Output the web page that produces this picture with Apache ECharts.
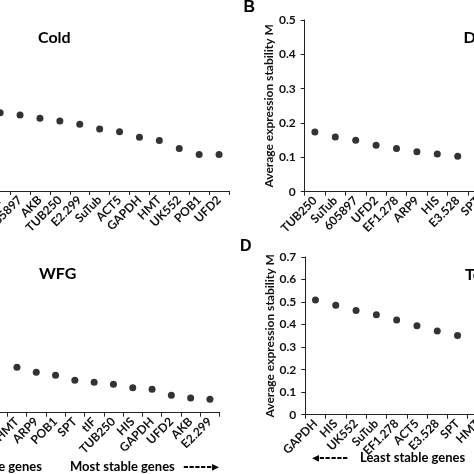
<!DOCTYPE html>
<html><head><meta charset="utf-8">
<script src="https://cdn.jsdelivr.net/npm/echarts@6/dist/echarts.min.js"></script>
<style>html,body{margin:0;padding:0;background:#fff}#c{width:474px;height:474px}</style>
</head><body><div id="c"></div>
<script>
// Panel A (Cold) - right part visible
const catsA = ['SPT','605897','AKB','TUB250','E2.299','SuTub','ACT5','GAPDH','HMT','UK552','POB1','UFD2'];
const valsA = [0.229,0.222,0.213,0.205,0.195,0.181,0.173,0.157,0.148,0.124,0.107,0.107];
// Panel B (Drought) - left part visible
const catsB = ['TUB250','SuTub','605897','UFD2','EF1.278','ARP9','HIS','E3.528','SPT'];
const valsB = [0.174,0.159,0.150,0.135,0.126,0.116,0.110,0.103,null];
// Panel C (WFG) - right part visible
const catsC = ['ACT5','HMT','ARP9','POB1','SPT','tIF','TUB250','HIS','GAPDH','UFD2','AKB','E2.299'];
const valsC = [null,0.204,0.182,0.168,0.146,0.137,0.128,0.112,0.105,0.078,0.066,0.060];
// Panel D (Temperature) - left part visible
const catsD = ['GAPDH','HIS','UK552','SuTub','EF1.278','ACT5','E3.528','SPT','HMT'];
const valsD = [0.509,0.486,0.463,0.444,0.420,0.395,0.372,0.351,null];
// y-axis ranges
const yRangeTop = [0, 0.5, 0.1];
const yRangeBottom = [0, 0.7, 0.1];
const yName = 'Average expression stability M';

const FONT = 'Lato';
const axisCol = '#222';
const grids = [
  {left: -9.8, top: 20, width: 238.8, height: 171},
  {left: 304.7, top: 20, width: 183.6, height: 171.7},
  {left: -12, top: 257, width: 231.6, height: 155.7},
  {left: 305.3, top: 257, width: 182.7, height: 157.7}
].map(g => Object.assign({containLabel: false, outerBoundsMode: 'none'}, g));

const cats = [catsA, catsB, catsC, catsD];
const vals = [valsA, valsB, valsC, valsD];
const ranges = [yRangeTop, yRangeTop, yRangeBottom, yRangeBottom];

const xAxis = cats.map((c, i) => ({
  type: 'category', gridIndex: i, data: c, boundaryGap: true,
  axisLine: {lineStyle: {color: axisCol, width: 1}},
  axisTick: {show: true, length: 4, inside: false, lineStyle: {color: axisCol}},
  axisLabel: {rotate: 45, interval: 0, margin: 7, fontFamily: FONT, fontWeight: 'bold', fontSize: 12, color: '#111'},
  splitLine: {show: false}
}));
const yAxis = ranges.map((r, i) => ({
  type: 'value', gridIndex: i, min: r[0], max: r[1], interval: r[2],
  name: yName, nameLocation: 'middle', nameRotate: 90, nameGap: 29,
  nameTextStyle: {fontFamily: FONT, fontWeight: 'bold', fontSize: 12, color: '#111'},
  axisLine: {show: true, lineStyle: {color: axisCol, width: 1}},
  axisTick: {show: true, length: 4, lineStyle: {color: axisCol}},
  axisLabel: {margin: 9, fontFamily: FONT, fontWeight: 'bold', fontSize: 12, color: '#111',
    formatter: v => (Math.round(v * 10) / 10).toString()},
  splitLine: {show: false}
}));
const series = vals.map((v, i) => ({
  type: 'scatter', xAxisIndex: i, yAxisIndex: i, data: v,
  symbolSize: 7, itemStyle: {color: '#000'}, silent: true
}));

function txt(x, y, text, font, align) {
  return {type: 'text', x: x, y: y, silent: true,
    style: {text: text, font: font, fill: '#000', align: align || 'left', verticalAlign: 'middle'}};
}
const titleFont = 'bold 16px ' + FONT;
const noteFont = 'bold 13px ' + FONT;
const arrowFont = 'bold 14px "DejaVu Sans"';
const graphic = [
  txt(38, 38, 'Cold', titleFont),
  txt(39, 274, 'WFG', titleFont),
  txt(463.5, 38, 'Drought', titleFont),
  txt(465, 275, 'Temperature', titleFont),
  txt(243.5, 7.5, 'B', 'bold 16px "Liberation Sans"'),
  txt(240, 246.5, 'D', 'bold 16px "Liberation Sans"'),
  txt(42, 467, 'Least stable genes', noteFont, 'right'),
  txt(70, 467, 'Most stable genes', noteFont),
  txt(219, 467, '-----\u25B8', arrowFont, 'right'),
  txt(312, 458, '\u25C2-----', arrowFont),
  txt(360, 458, 'Least stable genes', noteFont)
];

const chart = echarts.init(document.getElementById('c'), null, {renderer: 'canvas'});
chart.setOption({
  animation: false, backgroundColor: '#fff',
  grid: grids, xAxis: xAxis, yAxis: yAxis, series: series, graphic: graphic
});
</script></body></html>
